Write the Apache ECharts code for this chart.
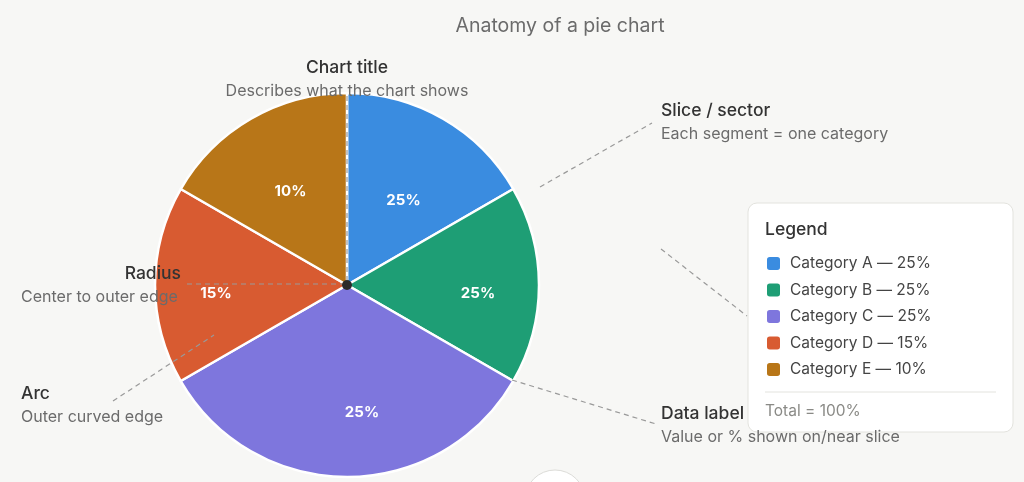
<!DOCTYPE html>
<html>
<head>
<meta charset="utf-8">
<script src="https://cdn.jsdelivr.net/npm/echarts@6/dist/echarts.min.js"></script>
<style>
    html, body {margin: 0; padding: 0; background: #f7f7f5;}
    #main {width: 1024px; height: 482px;}
</style>
</head>
<body>
<div id="main"></div>
<script>
// slice sizes as drawn (the picture uses equal sixths, C twice as wide)
var categories = ['Category A', 'Category B', 'Category C', 'Category D', 'Category E'];
var sliceWeights = [1, 1, 2, 1, 1];
var percentLabels = ['25%', '25%', '25%', '15%', '10%'];
var colors = ['#3a8ce0', '#1e9e75', '#7e76dd', '#d85b31', '#b87618'];

var font = 'Inter, "Noto Sans", sans-serif';
var cx = 347, cy = 285, R = 192;

// nudges for the inside labels, to sit where the reference has them
var labelNudge = [[7, 1], [32, 8], [15, 28], [-32, 8], [-7, -8]];

var chart = echarts.init(document.getElementById('main'));

function note(x, y, head, sub, align, subAlign) {
    return [
        {type: 'text', z: 30, x: x, y: y, style: {text: head, font: '500 17.5px ' + font, fill: '#333', align: align || 'left', verticalAlign: 'middle'}},
        {type: 'text', z: 30, x: subAlign ? 21 : x, y: y + 23, style: {text: sub, font: '16px ' + font, fill: '#6b6b6b', align: subAlign || align || 'left', verticalAlign: 'middle'}}
    ];
}

function dash(x1, y1, x2, y2) {
    return {type: 'line', z: 10, shape: {x1: x1, y1: y1, x2: x2, y2: y2},
        style: {stroke: '#999', lineWidth: 1.2, lineDash: [5, 4]}};
}

var graphics = [
    {type: 'rect', z: 0, shape: {x: 748, y: 203, width: 265, height: 229, r: 9},
        style: {fill: '#ffffff', stroke: '#e3e3de', lineWidth: 1}},
    {type: 'text', x: 765, y: 230, style: {text: 'Legend', font: '500 17.5px ' + font, fill: '#333', verticalAlign: 'middle'}},
    {type: 'line', shape: {x1: 765, y1: 392, x2: 996, y2: 392}, style: {stroke: '#e3e3de', lineWidth: 1}},
    {type: 'text', x: 765, y: 411, style: {text: 'Total = 100%', font: '15.5px ' + font, fill: '#8a8a86', verticalAlign: 'middle'}},

    dash(cx, 96, cx, 280),
    dash(187, 284, cx - 4, 284),
    dash(113, 401, 214, 335),
    dash(540, 187, 652, 123),
    dash(661, 249, 747, 316),
    dash(512, 380, 656, 424),

    {type: 'circle', z: 20, shape: {cx: cx, cy: cy, r: 5}, style: {fill: '#2b2b2b'}},
    {type: 'circle', z: 20, shape: {cx: 555, cy: 500, r: 30}, style: {fill: '#ffffff', stroke: '#dcdcd8', lineWidth: 1}}
];
graphics = graphics
    .concat(note(cx, 68, 'Chart title', 'Describes what the chart shows', 'center'))
    .concat(note(661, 111, 'Slice / sector', 'Each segment = one category'))
    .concat(note(181, 274, 'Radius', 'Center to outer edge', 'right', 'left'))
    .concat(note(21, 394, 'Arc', 'Outer curved edge'))
    .concat(note(661, 414, 'Data label', 'Value or % shown on/near slice'));

var option = {
    backgroundColor: '#f7f7f5',
    animation: false,
    color: colors,
    title: {
        text: 'Anatomy of a pie chart',
        left: 555, top: 11, textAlign: 'center',
        textStyle: {fontFamily: font, fontSize: 19.5, fontWeight: 'normal', color: '#6b6b6b'}
    },
    legend: {
        orient: 'vertical',
        left: 765, top: 255,
        padding: 0,
        icon: 'roundRect',
        itemWidth: 15, itemHeight: 15, itemGap: 9.5,
        data: categories,
        formatter: function (name) {
            return name + ' \u2014 ' + percentLabels[categories.indexOf(name)];
        },
        textStyle: {fontFamily: font, fontSize: 15.5, color: '#444', padding: [0, 0, 0, 4]}
    },
    graphic: graphics,
    series: [{
        type: 'pie',
        center: [cx, cy],
        radius: [0, R],
        startAngle: 90,
        clockwise: true,
        avoidLabelOverlap: false,
        itemStyle: {borderColor: '#ffffff', borderWidth: 2.5},
        label: {
            position: 'inside',
            formatter: function (p) { return percentLabels[p.dataIndex]; },
            color: '#ffffff', fontFamily: font, fontSize: 15, fontWeight: 'bold'
        },
        labelLayout: function (p) {
            var n = labelNudge[p.dataIndex];
            return {dx: n[0], dy: n[1]};
        },
        emphasis: {disabled: true},
        data: categories.map(function (c, i) {
            return {name: c, value: sliceWeights[i]};
        })
    }]
};

chart.setOption(option);
</script>
</body>
</html>
